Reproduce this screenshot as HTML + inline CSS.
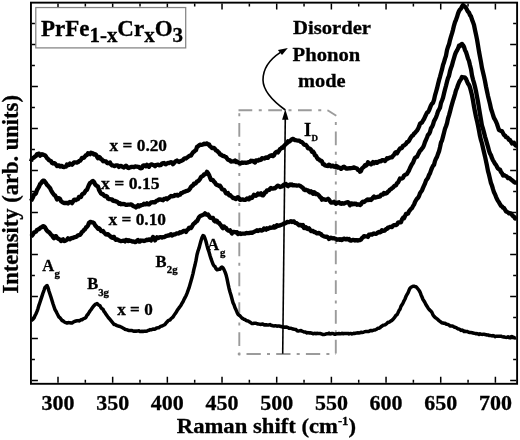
<!DOCTYPE html>
<html lang="en">
<head>
<meta charset="utf-8">
<title>Raman spectra of PrFe1-xCrxO3</title>
<style>
html,body{margin:0;padding:0;background:#fff;}
body{width:520px;height:440px;overflow:hidden;}
svg{display:block;}
text{white-space:pre;}
</style>
</head>
<body>
<svg width="520" height="440" viewBox="0 0 520 440" font-family='"Liberation Serif", "DejaVu Serif", serif' font-weight="bold" fill="#000">
<style>text{stroke:#000;stroke-width:0.3px;}</style>
<rect width="520" height="440" fill="#fff"/>
<path d="M58.00,382.85v-6.0M58.00,3.60v6.0M85.34,382.85v-3.0M85.34,3.60v3.0M112.67,382.85v-6.0M112.67,3.60v6.0M140.01,382.85v-3.0M140.01,3.60v3.0M167.35,382.85v-6.0M167.35,3.60v6.0M194.69,382.85v-3.0M194.69,3.60v3.0M222.02,382.85v-6.0M222.02,3.60v6.0M249.36,382.85v-3.0M249.36,3.60v3.0M276.70,382.85v-6.0M276.70,3.60v6.0M304.04,382.85v-3.0M304.04,3.60v3.0M331.38,382.85v-6.0M331.38,3.60v6.0M358.71,382.85v-3.0M358.71,3.60v3.0M386.05,382.85v-6.0M386.05,3.60v6.0M413.39,382.85v-3.0M413.39,3.60v3.0M440.72,382.85v-6.0M440.72,3.60v6.0M468.06,382.85v-3.0M468.06,3.60v3.0M495.40,382.85v-6.0M495.40,3.60v6.0M31.90,23.50h3.0M516.15,23.50h-3.0M31.90,44.50h6.0M516.15,44.50h-6.0M31.90,65.50h3.0M516.15,65.50h-3.0M31.90,86.50h6.0M516.15,86.50h-6.0M31.90,107.50h3.0M516.15,107.50h-3.0M31.90,128.50h6.0M516.15,128.50h-6.0M31.90,149.50h3.0M516.15,149.50h-3.0M31.90,170.50h6.0M516.15,170.50h-6.0M31.90,191.50h3.0M516.15,191.50h-3.0M31.90,212.50h6.0M516.15,212.50h-6.0M31.90,233.50h3.0M516.15,233.50h-3.0M31.90,254.50h6.0M516.15,254.50h-6.0M31.90,275.50h3.0M516.15,275.50h-3.0M31.90,296.50h6.0M516.15,296.50h-6.0M31.90,317.50h3.0M516.15,317.50h-3.0M31.90,338.50h6.0M516.15,338.50h-6.0M31.90,359.50h3.0M516.15,359.50h-3.0M31.90,380.50h6.0M516.15,380.50h-6.0" stroke="#000" stroke-width="1.5" fill="none"/>
<rect x="30.95" y="2.65" width="486.15" height="381.15" fill="none" stroke="#000" stroke-width="1.9"/>
<path d="M238.5,110.2 H328" fill="none" stroke="#9b9b9b" stroke-width="1.9" stroke-dasharray="13.75 6.5 3 6.5"/>
<path d="M327.6,110.2 L336.3,115.7" fill="none" stroke="#9b9b9b" stroke-width="1.9"/>
<path d="M335.8,116 V353.6" fill="none" stroke="#9b9b9b" stroke-width="1.9" stroke-dasharray="0 6 3 6.5 13.75 0.5"/>
<path d="M336,354 H237.8" fill="none" stroke="#9b9b9b" stroke-width="1.9" stroke-dasharray="3 6.2 14.3 6.2" stroke-dashoffset="-6.6"/>
<path d="M239.3,355.4 V110" fill="none" stroke="#9b9b9b" stroke-width="1.9" stroke-dasharray="3 6.4 13.8 6.7"/>
<path id="c0" d="M31.0,320.8 32.0,319.9 33.0,319.3 34.0,318.0 35.0,315.6 36.0,313.7 37.0,311.4 38.0,308.6 39.0,305.1 40.0,302.2 41.0,299.1 42.0,296.1 43.0,293.0 44.0,290.3 45.0,287.4 46.0,286.4 47.0,285.5 48.0,287.8 49.0,291.2 50.0,294.2 51.0,297.2 52.0,300.4 53.0,303.8 54.0,306.8 55.0,309.6 56.0,311.2 57.0,313.3 58.0,315.2 59.0,317.1 60.0,317.8 61.0,319.1 62.0,320.5 63.0,320.8 64.0,321.8 65.0,322.3 66.0,322.7 67.0,323.1 68.0,322.7 69.0,322.6 70.0,322.8 71.0,323.0 72.0,323.0 73.0,322.3 74.0,321.7 75.0,321.3 76.0,321.0 77.0,320.8 78.0,320.6 79.0,321.0 80.0,320.4 81.0,319.8 82.0,319.7 83.0,319.0 84.0,318.5 85.0,318.1 86.0,317.3 87.0,315.3 88.0,314.2 89.0,312.6 90.0,311.0 91.0,309.7 92.0,308.2 93.0,306.9 94.0,305.7 95.0,304.6 96.0,304.0 97.0,303.6 98.0,304.6 99.0,305.2 100.0,305.8 101.0,307.7 102.0,308.7 103.0,309.3 104.0,311.4 105.0,312.6 106.0,314.3 107.0,315.6 108.0,317.1 109.0,318.3 110.0,319.4 111.0,320.7 112.0,321.9 113.0,323.1 114.0,324.5 115.0,324.4 116.0,325.1 117.0,325.6 118.0,326.0 119.0,326.2 120.0,326.4 121.0,327.0 122.0,327.4 123.0,328.1 124.0,328.5 125.0,329.3 126.0,329.6 127.0,329.8 128.0,330.3 129.0,330.5 130.0,330.4 131.0,330.5 132.0,330.6 133.0,331.0 134.0,331.2 135.0,331.1 136.0,331.2 137.0,331.0 138.0,331.1 139.0,330.8 140.0,331.4 141.0,331.5 142.0,331.3 143.0,331.5 144.0,331.3 145.0,331.1 146.0,331.3 147.0,331.1 148.0,330.4 149.0,330.3 150.0,329.6 151.0,329.9 152.0,329.6 153.0,329.0 154.0,329.3 155.0,329.3 156.0,328.4 157.0,327.9 158.0,327.8 159.0,327.7 160.0,326.8 161.0,326.2 162.0,326.1 163.0,325.5 164.0,325.0 165.0,324.4 166.0,323.1 167.0,322.1 168.0,320.8 169.0,320.2 170.0,320.1 171.0,318.6 172.0,317.9 173.0,317.0 174.0,315.4 175.0,313.9 176.0,312.5 177.0,310.8 178.0,309.3 179.0,307.9 180.0,306.6 181.0,305.2 182.0,303.2 183.0,301.7 184.0,299.6 185.0,297.6 186.0,295.7 187.0,293.4 188.0,290.7 189.0,287.9 190.0,284.6 191.0,281.1 192.0,277.5 193.0,273.6 194.0,268.9 195.0,265.0 196.0,260.4 197.0,254.8 198.0,251.0 199.0,248.2 200.0,244.4 201.0,240.7 202.0,237.5 203.0,235.6 204.0,236.1 205.0,238.5 206.0,241.5 207.0,245.6 208.0,249.2 209.0,252.0 210.0,255.5 211.0,258.7 212.0,261.5 213.0,264.2 214.0,266.0 215.0,266.6 216.0,268.8 217.0,269.8 218.0,269.5 219.0,269.3 220.0,269.2 221.0,267.6 222.0,267.1 223.0,267.9 224.0,269.6 225.0,271.9 226.0,274.7 227.0,278.7 228.0,283.7 229.0,288.2 230.0,292.0 231.0,295.3 232.0,299.0 233.0,302.7 234.0,304.7 235.0,307.8 236.0,309.8 237.0,312.2 238.0,314.4 239.0,315.2 240.0,315.8 241.0,317.0 242.0,318.2 243.0,318.5 244.0,319.3 245.0,319.5 246.0,320.4 247.0,320.8 248.0,321.0 249.0,321.6 250.0,322.1 251.0,322.9 252.0,323.6 253.0,323.5 254.0,323.3 255.0,323.2 256.0,323.3 257.0,323.8 258.0,324.0 259.0,324.1 260.0,324.3 261.0,324.5 262.0,324.1 263.0,324.0 264.0,324.8 265.0,325.1 266.0,324.7 267.0,325.1 268.0,325.0 269.0,324.9 270.0,324.6 271.0,325.2 272.0,325.5 273.0,325.8 274.0,325.9 275.0,325.8 276.0,325.8 277.0,326.2 278.0,326.1 279.0,326.0 280.0,326.2 281.0,326.5 282.0,326.8 283.0,327.3 284.0,327.0 285.0,327.2 286.0,327.0 287.0,327.3 288.0,327.6 289.0,328.2 290.0,328.4 291.0,328.2 292.0,328.7 293.0,329.1 294.0,329.2 295.0,329.4 296.0,329.5 297.0,330.8 298.0,330.9 299.0,330.9 300.0,330.7 301.0,330.6 302.0,331.1 303.0,331.5 304.0,332.0 305.0,331.9 306.0,332.3 307.0,333.0 308.0,332.6 309.0,332.9 310.0,332.8 311.0,333.0 312.0,333.3 313.0,333.8 314.0,333.4 315.0,333.3 316.0,333.8 317.0,333.3 318.0,333.4 319.0,333.4 320.0,333.4 321.0,333.8 322.0,334.1 323.0,334.6 324.0,334.6 325.0,334.4 326.0,333.9 327.0,333.7 328.0,333.8 329.0,333.1 330.0,333.9 331.0,333.8 332.0,333.4 333.0,333.5 334.0,334.0 335.0,334.3 336.0,333.9 337.0,333.8 338.0,333.8 339.0,333.5 340.0,333.7 341.0,333.8 342.0,333.3 343.0,333.8 344.0,333.5 345.0,333.6 346.0,333.5 347.0,333.4 348.0,333.4 349.0,333.9 350.0,333.5 351.0,333.4 352.0,334.0 353.0,333.6 354.0,333.3 355.0,333.5 356.0,333.1 357.0,333.1 358.0,332.8 359.0,332.9 360.0,332.8 361.0,332.2 362.0,332.6 363.0,332.4 364.0,332.0 365.0,331.6 366.0,331.4 367.0,331.4 368.0,331.4 369.0,331.5 370.0,330.7 371.0,330.4 372.0,330.7 373.0,330.4 374.0,330.0 375.0,330.0 376.0,329.5 377.0,328.9 378.0,328.2 379.0,328.2 380.0,327.7 381.0,326.6 382.0,326.1 383.0,325.3 384.0,325.1 385.0,324.9 386.0,324.1 387.0,323.3 388.0,322.3 389.0,322.2 390.0,321.7 391.0,320.9 392.0,320.4 393.0,319.3 394.0,318.1 395.0,316.9 396.0,315.3 397.0,314.7 398.0,312.8 399.0,310.6 400.0,309.2 401.0,306.3 402.0,304.7 403.0,303.1 404.0,300.8 405.0,299.0 406.0,296.4 407.0,294.5 408.0,292.9 409.0,290.3 410.0,288.2 411.0,287.3 412.0,286.8 413.0,286.2 414.0,286.2 415.0,286.6 416.0,286.8 417.0,287.8 418.0,289.0 419.0,290.3 420.0,292.0 421.0,294.7 422.0,297.0 423.0,299.5 424.0,301.0 425.0,302.7 426.0,304.7 427.0,306.3 428.0,307.9 429.0,309.3 430.0,310.4 431.0,311.2 432.0,312.6 433.0,314.9 434.0,316.3 435.0,317.4 436.0,318.0 437.0,318.8 438.0,319.6 439.0,320.7 440.0,321.5 441.0,322.1 442.0,323.0 443.0,322.9 444.0,323.3 445.0,323.3 446.0,324.0 447.0,324.3 448.0,324.5 449.0,325.0 450.0,325.9 451.0,326.0 452.0,326.0 453.0,326.2 454.0,327.0 455.0,327.3 456.0,327.6 457.0,328.2 458.0,328.9 459.0,329.0 460.0,329.5 461.0,330.4 462.0,330.0 463.0,330.6 464.0,331.6 465.0,331.3 466.0,331.5 467.0,331.4 468.0,331.9 469.0,332.3 470.0,332.6 471.0,332.6 472.0,332.7 473.0,333.1 474.0,333.2 475.0,333.4 476.0,333.7 477.0,333.6 478.0,333.9 479.0,334.4 480.0,333.8 481.0,334.2 482.0,334.4 483.0,334.3 484.0,334.3 485.0,334.5 486.0,334.7 487.0,335.1 488.0,334.9 489.0,335.4 490.0,335.4 491.0,335.6 492.0,336.0 493.0,335.5 494.0,335.9 495.0,336.7 496.0,336.2 497.0,336.2 498.0,336.2 499.0,336.2 500.0,336.3 501.0,336.2 502.0,336.6 503.0,336.9 504.0,336.8 505.0,337.2 506.0,337.4 507.0,337.3 508.0,336.8 509.0,337.5 510.0,337.8 511.0,336.7 512.0,336.6 513.0,337.0 514.0,337.6 515.0,337.9 516.0,337.6" fill="none" stroke="#000" stroke-width="3.5" stroke-linejoin="round" stroke-linecap="butt"/>
<path id="c10" d="M31.0,236.5 32.0,235.6 33.0,234.4 34.0,232.3 35.0,232.1 36.0,231.6 37.0,229.9 38.0,229.5 39.0,229.0 40.0,228.2 41.0,227.3 42.0,227.1 43.0,226.2 44.0,226.4 45.0,227.3 46.0,229.2 47.0,230.7 48.0,231.6 49.0,232.2 50.0,233.3 51.0,234.6 52.0,235.4 53.0,237.1 54.0,238.2 55.0,236.4 56.0,236.1 57.0,237.8 58.0,238.6 59.0,239.2 60.0,239.6 61.0,241.0 62.0,239.8 63.0,239.3 64.0,241.0 65.0,240.9 66.0,240.4 67.0,239.6 68.0,238.3 69.0,238.9 70.0,239.3 71.0,238.3 72.0,237.9 73.0,238.1 74.0,237.4 75.0,237.1 76.0,236.9 77.0,236.3 78.0,235.3 79.0,235.1 80.0,234.9 81.0,233.7 82.0,231.8 83.0,231.3 84.0,229.9 85.0,229.3 86.0,227.4 87.0,226.8 88.0,225.4 89.0,222.9 90.0,222.0 91.0,222.0 92.0,222.4 93.0,222.5 94.0,223.1 95.0,225.1 96.0,226.3 97.0,227.4 98.0,228.7 99.0,228.1 100.0,229.2 101.0,231.1 102.0,231.2 103.0,231.0 104.0,232.5 105.0,233.4 106.0,234.4 107.0,234.5 108.0,234.1 109.0,235.2 110.0,236.0 111.0,237.1 112.0,237.7 113.0,236.9 114.0,237.0 115.0,238.9 116.0,239.9 117.0,239.4 118.0,239.7 119.0,240.4 120.0,240.8 121.0,241.2 122.0,241.0 123.0,240.7 124.0,240.6 125.0,241.4 126.0,239.9 127.0,240.1 128.0,241.0 129.0,240.2 130.0,240.9 131.0,240.9 132.0,241.5 133.0,241.4 134.0,241.6 135.0,242.2 136.0,241.9 137.0,240.8 138.0,240.0 139.0,241.7 140.0,241.6 141.0,240.5 142.0,240.7 143.0,240.7 144.0,241.1 145.0,240.7 146.0,240.3 147.0,239.7 148.0,240.0 149.0,239.3 150.0,239.6 151.0,240.5 152.0,238.8 153.0,237.0 154.0,238.4 155.0,240.4 156.0,238.7 157.0,237.2 158.0,238.1 159.0,237.7 160.0,237.2 161.0,237.2 162.0,237.7 163.0,237.2 164.0,237.1 165.0,236.8 166.0,236.0 167.0,235.9 168.0,235.4 169.0,235.5 170.0,234.8 171.0,234.2 172.0,235.5 173.0,235.1 174.0,234.3 175.0,234.4 176.0,233.7 177.0,233.3 178.0,233.5 179.0,233.4 180.0,232.2 181.0,232.7 182.0,232.2 183.0,231.2 184.0,230.8 185.0,230.9 186.0,231.9 187.0,230.3 188.0,229.6 189.0,227.9 190.0,227.7 191.0,228.1 192.0,226.6 193.0,224.6 194.0,223.6 195.0,222.8 196.0,221.6 197.0,221.2 198.0,219.4 199.0,217.2 200.0,216.2 201.0,215.7 202.0,215.3 203.0,214.8 204.0,214.5 205.0,213.3 206.0,214.4 207.0,214.8 208.0,214.5 209.0,216.0 210.0,217.6 211.0,217.9 212.0,218.0 213.0,217.9 214.0,220.6 215.0,221.4 216.0,220.4 217.0,220.9 218.0,222.6 219.0,222.8 220.0,224.3 221.0,225.4 222.0,227.1 223.0,228.2 224.0,226.4 225.0,227.5 226.0,227.9 227.0,229.6 228.0,230.4 229.0,230.8 230.0,230.3 231.0,232.0 232.0,233.4 233.0,231.9 234.0,232.0 235.0,232.1 236.0,232.5 237.0,232.2 238.0,234.0 239.0,233.5 240.0,233.2 241.0,234.0 242.0,233.7 243.0,233.6 244.0,233.6 245.0,233.7 246.0,233.1 247.0,233.0 248.0,233.2 249.0,233.0 250.0,232.9 251.0,232.6 252.0,232.9 253.0,232.3 254.0,231.8 255.0,231.3 256.0,231.0 257.0,230.3 258.0,231.0 259.0,230.3 260.0,229.8 261.0,230.4 262.0,230.6 263.0,229.9 264.0,228.4 265.0,229.2 266.0,229.7 267.0,228.3 268.0,228.9 269.0,228.4 270.0,227.4 271.0,227.8 272.0,227.7 273.0,227.6 274.0,226.3 275.0,227.5 276.0,226.9 277.0,225.2 278.0,225.9 279.0,225.7 280.0,225.4 281.0,224.9 282.0,224.5 283.0,224.3 284.0,223.4 285.0,223.5 286.0,222.9 287.0,221.9 288.0,222.0 289.0,222.2 290.0,221.7 291.0,221.1 292.0,222.0 293.0,221.4 294.0,221.5 295.0,222.8 296.0,222.8 297.0,223.6 298.0,224.3 299.0,225.3 300.0,224.9 301.0,224.9 302.0,226.0 303.0,225.0 304.0,228.0 305.0,227.9 306.0,227.2 307.0,228.7 308.0,229.1 309.0,228.3 310.0,229.7 311.0,231.1 312.0,230.9 313.0,231.0 314.0,232.0 315.0,231.9 316.0,232.7 317.0,233.4 318.0,233.2 319.0,232.9 320.0,233.7 321.0,234.1 322.0,235.4 323.0,235.9 324.0,236.4 325.0,236.6 326.0,236.8 327.0,236.6 328.0,237.5 329.0,238.9 330.0,238.3 331.0,237.7 332.0,238.1 333.0,238.3 334.0,238.2 335.0,238.7 336.0,238.8 337.0,239.8 338.0,239.5 339.0,239.2 340.0,239.8 341.0,239.2 342.0,240.0 343.0,239.3 344.0,238.6 345.0,239.0 346.0,239.4 347.0,238.8 348.0,239.4 349.0,239.0 350.0,240.5 351.0,240.7 352.0,240.0 353.0,239.8 354.0,240.1 355.0,240.5 356.0,240.2 357.0,240.1 358.0,240.6 359.0,240.2 360.0,240.1 361.0,239.6 362.0,238.0 363.0,237.4 364.0,236.1 365.0,236.4 366.0,236.4 367.0,236.3 368.0,236.9 369.0,234.6 370.0,234.6 371.0,234.4 372.0,234.7 373.0,233.8 374.0,233.4 375.0,233.8 376.0,233.9 377.0,233.4 378.0,232.3 379.0,231.8 380.0,232.4 381.0,231.9 382.0,230.2 383.0,230.7 384.0,230.8 385.0,230.4 386.0,229.2 387.0,229.0 388.0,227.6 389.0,227.5 390.0,226.9 391.0,226.8 392.0,227.1 393.0,225.7 394.0,225.2 395.0,225.0 396.0,225.2 397.0,224.7 398.0,222.6 399.0,222.3 400.0,222.2 401.0,222.3 402.0,219.4 403.0,217.8 404.0,218.3 405.0,216.1 406.0,214.0 407.0,213.9 408.0,213.5 409.0,211.3 410.0,210.1 411.0,208.9 412.0,208.1 413.0,206.1 414.0,204.6 415.0,202.1 416.0,200.2 417.0,198.7 418.0,197.8 419.0,196.1 420.0,193.2 421.0,191.8 422.0,190.4 423.0,187.9 424.0,185.6 425.0,183.5 426.0,180.6 427.0,179.2 428.0,177.8 429.0,175.0 430.0,173.4 431.0,170.4 432.0,167.9 433.0,165.8 434.0,164.9 435.0,161.0 436.0,158.6 437.0,156.9 438.0,153.9 439.0,151.4 440.0,147.3 441.0,142.5 442.0,140.5 443.0,136.6 444.0,132.8 445.0,128.8 446.0,126.2 447.0,123.2 448.0,118.5 449.0,115.3 450.0,111.7 451.0,107.7 452.0,104.2 453.0,100.7 454.0,97.5 455.0,94.1 456.0,90.3 457.0,88.0 458.0,85.0 459.0,82.5 460.0,80.5 461.0,79.2 462.0,77.0 463.0,77.2 464.0,77.3 465.0,77.6 466.0,78.8 467.0,81.4 468.0,83.6 469.0,84.9 470.0,87.4 471.0,91.2 472.0,95.3 473.0,100.7 474.0,106.6 475.0,111.9 476.0,116.8 477.0,120.9 478.0,125.5 479.0,130.6 480.0,136.1 481.0,140.2 482.0,143.5 483.0,147.9 484.0,152.3 485.0,156.4 486.0,161.1 487.0,165.8 488.0,171.1 489.0,174.7 490.0,178.9 491.0,183.2 492.0,185.6 493.0,189.2 494.0,192.3 495.0,194.2 496.0,196.8 497.0,199.1 498.0,200.8 499.0,202.4 500.0,204.2 501.0,205.9 502.0,206.4 503.0,207.7 504.0,208.1 505.0,209.7 506.0,211.3 507.0,211.9 508.0,212.4 509.0,213.3 510.0,213.2 511.0,213.6 512.0,214.9 513.0,216.1 514.0,216.7 515.0,218.5 516.0,218.4 517.0,218.9" fill="none" stroke="#000" stroke-width="4.3" stroke-linejoin="round" stroke-linecap="butt"/>
<path id="c15" d="M31.0,201.0 32.0,199.2 33.0,197.3 34.0,194.4 35.0,194.3 36.0,193.2 37.0,190.0 38.0,188.4 39.0,186.7 40.0,184.2 41.0,183.3 42.0,181.8 43.0,180.7 44.0,180.6 45.0,182.0 46.0,183.2 47.0,184.8 48.0,185.7 49.0,187.0 50.0,188.0 51.0,190.2 52.0,192.0 53.0,193.4 54.0,194.9 55.0,195.4 56.0,197.1 57.0,199.5 58.0,198.5 59.0,198.1 60.0,198.9 61.0,201.1 62.0,201.9 63.0,202.6 64.0,203.0 65.0,202.9 66.0,203.0 67.0,202.9 68.0,203.5 69.0,202.5 70.0,202.0 71.0,202.3 72.0,203.1 73.0,201.5 74.0,199.9 75.0,199.6 76.0,200.1 77.0,199.3 78.0,199.2 79.0,197.0 80.0,196.9 81.0,197.0 82.0,194.5 83.0,193.6 84.0,193.6 85.0,191.7 86.0,190.3 87.0,189.8 88.0,187.3 89.0,184.9 90.0,183.1 91.0,182.4 92.0,181.4 93.0,180.9 94.0,181.9 95.0,184.2 96.0,185.3 97.0,185.9 98.0,186.6 99.0,189.9 100.0,191.7 101.0,193.5 102.0,194.1 103.0,194.2 104.0,195.5 105.0,196.3 106.0,196.0 107.0,196.4 108.0,198.7 109.0,199.2 110.0,199.2 111.0,199.3 112.0,199.3 113.0,200.7 114.0,201.1 115.0,200.8 116.0,201.5 117.0,201.6 118.0,202.5 119.0,203.8 120.0,203.2 121.0,204.3 122.0,204.0 123.0,204.1 124.0,204.0 125.0,204.3 126.0,204.9 127.0,204.8 128.0,204.6 129.0,204.7 130.0,204.7 131.0,204.3 132.0,204.9 133.0,205.8 134.0,206.4 135.0,206.4 136.0,207.4 137.0,206.6 138.0,205.4 139.0,206.4 140.0,205.3 141.0,205.5 142.0,204.9 143.0,204.9 144.0,203.7 145.0,204.4 146.0,204.4 147.0,203.3 148.0,204.4 149.0,204.4 150.0,203.4 151.0,202.4 152.0,202.3 153.0,202.1 154.0,202.3 155.0,202.4 156.0,201.2 157.0,200.5 158.0,200.3 159.0,199.5 160.0,199.4 161.0,199.6 162.0,200.0 163.0,200.3 164.0,198.9 165.0,198.8 166.0,198.3 167.0,199.2 168.0,198.4 169.0,197.8 170.0,196.7 171.0,196.0 172.0,196.4 173.0,196.1 174.0,196.1 175.0,194.9 176.0,195.3 177.0,194.8 178.0,195.6 179.0,194.8 180.0,194.7 181.0,193.2 182.0,193.1 183.0,192.4 184.0,191.8 185.0,191.7 186.0,191.1 187.0,190.8 188.0,190.6 189.0,189.9 190.0,188.7 191.0,186.8 192.0,185.9 193.0,185.5 194.0,183.6 195.0,183.8 196.0,183.0 197.0,181.6 198.0,181.2 199.0,180.3 200.0,178.9 201.0,177.0 202.0,176.4 203.0,175.9 204.0,174.4 205.0,174.3 206.0,173.8 207.0,171.8 208.0,173.2 209.0,174.8 210.0,177.6 211.0,179.9 212.0,179.7 213.0,180.2 214.0,181.7 215.0,182.6 216.0,184.3 217.0,185.1 218.0,185.1 219.0,186.1 220.0,185.7 221.0,187.2 222.0,189.2 223.0,189.6 224.0,189.8 225.0,191.3 226.0,193.4 227.0,193.6 228.0,193.1 229.0,195.2 230.0,194.9 231.0,196.1 232.0,196.9 233.0,198.0 234.0,197.8 235.0,198.8 236.0,199.1 237.0,197.7 238.0,197.1 239.0,198.2 240.0,199.9 241.0,199.8 242.0,199.5 243.0,199.4 244.0,199.9 245.0,199.9 246.0,199.5 247.0,198.4 248.0,199.0 249.0,199.4 250.0,197.4 251.0,198.2 252.0,198.0 253.0,196.3 254.0,194.7 255.0,195.4 256.0,195.9 257.0,194.8 258.0,193.4 259.0,194.5 260.0,194.1 261.0,193.3 262.0,195.1 263.0,195.4 264.0,194.1 265.0,192.4 266.0,192.2 267.0,190.4 268.0,190.3 269.0,190.0 270.0,188.8 271.0,187.9 272.0,188.6 273.0,188.6 274.0,188.1 275.0,188.3 276.0,187.3 277.0,186.3 278.0,185.6 279.0,186.1 280.0,187.1 281.0,186.7 282.0,186.5 283.0,185.3 284.0,184.7 285.0,184.5 286.0,184.0 287.0,185.7 288.0,186.2 289.0,184.9 290.0,184.5 291.0,185.0 292.0,184.5 293.0,185.4 294.0,185.1 295.0,185.3 296.0,185.4 297.0,185.7 298.0,185.5 299.0,185.3 300.0,185.8 301.0,186.5 302.0,187.2 303.0,188.0 304.0,189.5 305.0,190.0 306.0,189.6 307.0,190.4 308.0,190.3 309.0,191.7 310.0,192.3 311.0,191.3 312.0,192.5 313.0,193.8 314.0,192.2 315.0,192.8 316.0,194.2 317.0,193.9 318.0,194.6 319.0,195.5 320.0,197.0 321.0,197.8 322.0,199.7 323.0,199.0 324.0,199.4 325.0,199.6 326.0,199.8 327.0,199.3 328.0,198.8 329.0,199.6 330.0,201.2 331.0,202.6 332.0,202.5 333.0,202.4 334.0,201.8 335.0,203.0 336.0,203.8 337.0,202.7 338.0,202.5 339.0,202.2 340.0,203.5 341.0,203.8 342.0,203.2 343.0,203.4 344.0,203.7 345.0,203.2 346.0,202.5 347.0,202.3 348.0,202.1 349.0,203.4 350.0,205.3 351.0,203.5 352.0,203.4 353.0,204.3 354.0,203.6 355.0,204.0 356.0,203.7 357.0,204.8 358.0,204.5 359.0,204.4 360.0,205.1 361.0,204.3 362.0,202.3 363.0,201.7 364.0,202.0 365.0,201.2 366.0,200.7 367.0,199.6 368.0,199.5 369.0,200.0 370.0,199.4 371.0,200.0 372.0,199.0 373.0,197.5 374.0,196.5 375.0,197.6 376.0,197.3 377.0,197.1 378.0,196.7 379.0,196.8 380.0,196.5 381.0,194.9 382.0,194.3 383.0,194.5 384.0,192.9 385.0,193.3 386.0,193.6 387.0,192.9 388.0,191.6 389.0,191.0 390.0,189.6 391.0,189.1 392.0,188.2 393.0,187.5 394.0,186.3 395.0,185.6 396.0,185.4 397.0,183.2 398.0,182.7 399.0,180.6 400.0,178.5 401.0,178.7 402.0,178.5 403.0,177.8 404.0,175.7 405.0,174.9 406.0,174.4 407.0,174.0 408.0,172.1 409.0,170.5 410.0,168.0 411.0,166.0 412.0,164.1 413.0,162.8 414.0,160.2 415.0,157.9 416.0,157.1 417.0,156.8 418.0,154.7 419.0,152.7 420.0,150.8 421.0,149.9 422.0,148.5 423.0,147.4 424.0,145.1 425.0,142.0 426.0,139.8 427.0,137.5 428.0,134.8 429.0,133.9 430.0,132.0 431.0,128.1 432.0,126.9 433.0,124.6 434.0,121.1 435.0,119.4 436.0,117.4 437.0,114.6 438.0,111.3 439.0,109.6 440.0,107.7 441.0,102.9 442.0,100.5 443.0,97.8 444.0,93.4 445.0,89.5 446.0,85.8 447.0,81.7 448.0,78.2 449.0,75.9 450.0,71.2 451.0,68.0 452.0,65.2 453.0,61.4 454.0,58.1 455.0,54.6 456.0,52.1 457.0,50.5 458.0,48.6 459.0,45.8 460.0,46.2 461.0,44.5 462.0,43.9 463.0,45.2 464.0,46.9 465.0,50.2 466.0,52.0 467.0,55.1 468.0,58.7 469.0,60.9 470.0,65.3 471.0,69.2 472.0,75.5 473.0,79.6 474.0,82.9 475.0,86.7 476.0,91.2 477.0,96.6 478.0,102.0 479.0,108.0 480.0,114.2 481.0,119.8 482.0,125.8 483.0,128.8 484.0,132.6 485.0,136.6 486.0,139.9 487.0,143.3 488.0,146.8 489.0,150.8 490.0,153.4 491.0,155.3 492.0,158.2 493.0,160.4 494.0,161.9 495.0,163.8 496.0,164.9 497.0,166.9 498.0,168.6 499.0,169.3 500.0,169.6 501.0,172.1 502.0,173.2 503.0,175.5 504.0,175.0 505.0,175.6 506.0,176.1 507.0,176.8 508.0,178.1 509.0,178.0 510.0,178.5 511.0,179.5 512.0,180.2 513.0,181.0 514.0,182.0 515.0,182.5 516.0,182.6 517.0,182.5" fill="none" stroke="#000" stroke-width="4.3" stroke-linejoin="round" stroke-linecap="butt"/>
<path id="c20" d="M31.0,161.4 32.0,158.6 33.0,158.0 34.0,157.5 35.0,156.5 36.0,156.0 37.0,154.1 38.0,153.9 39.0,153.6 40.0,155.7 41.0,155.2 42.0,154.2 43.0,154.6 44.0,155.0 45.0,155.3 46.0,156.5 47.0,158.2 48.0,158.9 49.0,160.2 50.0,160.6 51.0,161.1 52.0,162.9 53.0,163.5 54.0,163.1 55.0,163.5 56.0,164.6 57.0,166.1 58.0,165.6 59.0,165.3 60.0,166.5 61.0,166.0 62.0,166.0 63.0,167.0 64.0,167.2 65.0,166.7 66.0,166.7 67.0,164.4 68.0,165.3 69.0,165.0 70.0,163.5 71.0,164.1 72.0,164.7 73.0,163.7 74.0,162.5 75.0,162.5 76.0,162.3 77.0,162.7 78.0,162.2 79.0,161.1 80.0,160.8 81.0,159.6 82.0,157.9 83.0,157.9 84.0,157.6 85.0,156.4 86.0,155.2 87.0,155.1 88.0,153.2 89.0,153.7 90.0,154.2 91.0,152.7 92.0,153.1 93.0,153.4 94.0,154.6 95.0,154.1 96.0,154.6 97.0,156.7 98.0,158.2 99.0,156.9 100.0,157.5 101.0,159.2 102.0,159.6 103.0,161.2 104.0,160.8 105.0,161.3 106.0,161.4 107.0,162.9 108.0,163.3 109.0,163.0 110.0,162.5 111.0,164.5 112.0,165.4 113.0,165.4 114.0,166.0 115.0,166.0 116.0,165.4 117.0,165.3 118.0,165.5 119.0,167.0 120.0,166.1 121.0,165.9 122.0,166.5 123.0,167.0 124.0,167.5 125.0,166.6 126.0,165.7 127.0,166.6 128.0,167.9 129.0,168.0 130.0,167.4 131.0,166.9 132.0,167.0 133.0,166.8 134.0,167.2 135.0,166.5 136.0,166.5 137.0,166.7 138.0,166.9 139.0,166.9 140.0,168.2 141.0,168.3 142.0,167.9 143.0,165.6 144.0,165.4 145.0,165.7 146.0,166.3 147.0,164.8 148.0,165.9 149.0,166.8 150.0,165.2 151.0,164.5 152.0,164.5 153.0,164.9 154.0,165.3 155.0,166.2 156.0,165.1 157.0,164.8 158.0,164.6 159.0,165.3 160.0,165.1 161.0,165.0 162.0,163.6 163.0,163.2 164.0,163.0 165.0,164.2 166.0,164.3 167.0,163.3 168.0,162.8 169.0,163.2 170.0,162.7 171.0,162.1 172.0,162.7 173.0,164.2 174.0,163.0 175.0,161.8 176.0,161.1 177.0,160.5 178.0,161.4 179.0,162.0 180.0,161.3 181.0,160.9 182.0,160.5 183.0,160.1 184.0,158.7 185.0,158.3 186.0,158.5 187.0,157.6 188.0,156.9 189.0,156.1 190.0,155.5 191.0,155.5 192.0,153.9 193.0,152.3 194.0,151.7 195.0,150.7 196.0,150.1 197.0,146.9 198.0,146.3 199.0,145.5 200.0,144.7 201.0,144.9 202.0,144.8 203.0,144.5 204.0,143.7 205.0,144.2 206.0,143.7 207.0,143.4 208.0,144.5 209.0,144.4 210.0,146.2 211.0,146.9 212.0,148.0 213.0,147.9 214.0,147.9 215.0,149.0 216.0,150.4 217.0,150.7 218.0,151.8 219.0,152.7 220.0,154.5 221.0,154.5 222.0,155.6 223.0,156.0 224.0,156.0 225.0,156.7 226.0,157.1 227.0,158.4 228.0,159.8 229.0,160.1 230.0,160.4 231.0,161.6 232.0,161.4 233.0,161.3 234.0,161.3 235.0,160.6 236.0,162.0 237.0,161.5 238.0,162.4 239.0,162.9 240.0,163.6 241.0,163.3 242.0,162.5 243.0,162.9 244.0,162.7 245.0,162.6 246.0,162.8 247.0,162.6 248.0,162.4 249.0,161.8 250.0,161.9 251.0,160.7 252.0,161.1 253.0,161.0 254.0,161.9 255.0,162.6 256.0,160.4 257.0,160.4 258.0,160.7 259.0,159.7 260.0,160.1 261.0,159.7 262.0,158.2 263.0,158.3 264.0,158.5 265.0,158.4 266.0,157.3 267.0,157.6 268.0,157.9 269.0,156.4 270.0,155.7 271.0,155.8 272.0,155.2 273.0,156.0 274.0,155.2 275.0,153.2 276.0,152.1 277.0,151.6 278.0,152.4 279.0,150.8 280.0,149.2 281.0,148.6 282.0,147.5 283.0,147.8 284.0,146.0 285.0,144.9 286.0,144.0 287.0,143.1 288.0,141.3 289.0,141.8 290.0,141.1 291.0,140.1 292.0,139.2 293.0,138.8 294.0,139.6 295.0,140.2 296.0,140.2 297.0,140.5 298.0,140.7 299.0,140.6 300.0,141.3 301.0,142.0 302.0,142.2 303.0,143.2 304.0,144.5 305.0,144.9 306.0,145.0 307.0,146.3 308.0,148.3 309.0,148.4 310.0,148.7 311.0,149.8 312.0,151.7 313.0,151.4 314.0,152.9 315.0,155.4 316.0,155.7 317.0,157.8 318.0,159.2 319.0,159.4 320.0,160.5 321.0,160.6 322.0,161.6 323.0,164.2 324.0,164.1 325.0,165.4 326.0,165.6 327.0,165.9 328.0,166.0 329.0,164.6 330.0,165.1 331.0,166.4 332.0,166.0 333.0,165.6 334.0,166.7 335.0,166.8 336.0,165.9 337.0,166.3 338.0,167.7 339.0,167.5 340.0,168.0 341.0,168.9 342.0,168.2 343.0,167.1 344.0,166.7 345.0,167.5 346.0,168.5 347.0,168.5 348.0,168.6 349.0,168.2 350.0,168.4 351.0,168.2 352.0,168.1 353.0,167.7 354.0,167.3 355.0,168.0 356.0,168.2 357.0,168.5 358.0,170.0 359.0,170.3 360.0,171.8 361.0,171.0 362.0,168.4 363.0,167.6 364.0,166.8 365.0,165.3 366.0,165.6 367.0,164.7 368.0,162.3 369.0,163.6 370.0,163.7 371.0,164.3 372.0,163.4 373.0,162.1 374.0,163.3 375.0,162.3 376.0,161.9 377.0,162.8 378.0,162.2 379.0,161.3 380.0,161.1 381.0,161.3 382.0,160.2 383.0,160.2 384.0,160.4 385.0,161.1 386.0,159.7 387.0,158.2 388.0,158.6 389.0,158.0 390.0,157.6 391.0,157.3 392.0,157.3 393.0,155.8 394.0,154.9 395.0,152.8 396.0,152.2 397.0,153.3 398.0,151.7 399.0,149.9 400.0,148.5 401.0,148.4 402.0,147.8 403.0,145.8 404.0,145.4 405.0,144.7 406.0,143.8 407.0,142.1 408.0,141.9 409.0,140.8 410.0,138.8 411.0,137.2 412.0,135.9 413.0,135.4 414.0,133.7 415.0,132.8 416.0,131.6 417.0,130.5 418.0,128.9 419.0,126.7 420.0,123.8 421.0,123.0 422.0,122.5 423.0,120.6 424.0,119.0 425.0,116.8 426.0,114.8 427.0,112.7 428.0,112.1 429.0,110.4 430.0,107.9 431.0,105.3 432.0,103.7 433.0,102.8 434.0,100.0 435.0,95.4 436.0,92.0 437.0,88.4 438.0,84.2 439.0,80.2 440.0,76.8 441.0,73.0 442.0,69.4 443.0,65.0 444.0,62.3 445.0,58.6 446.0,55.7 447.0,50.2 448.0,46.9 449.0,44.4 450.0,40.1 451.0,36.6 452.0,33.4 453.0,29.8 454.0,25.6 455.0,22.2 456.0,19.8 457.0,17.1 458.0,13.6 459.0,11.1 460.0,9.5 461.0,8.6 462.0,6.5 463.0,5.1 464.0,6.1 465.0,6.7 466.0,7.9 467.0,9.9 468.0,11.7 469.0,12.6 470.0,15.1 471.0,16.4 472.0,19.7 473.0,22.1 474.0,25.0 475.0,30.0 476.0,34.5 477.0,39.4 478.0,45.3 479.0,51.5 480.0,56.9 481.0,62.2 482.0,68.1 483.0,72.3 484.0,76.5 485.0,81.1 486.0,86.5 487.0,91.3 488.0,95.9 489.0,99.9 490.0,104.0 491.0,108.7 492.0,111.7 493.0,115.0 494.0,118.0 495.0,119.6 496.0,121.7 497.0,124.0 498.0,127.1 499.0,130.0 500.0,130.4 501.0,131.1 502.0,131.1 503.0,133.1 504.0,135.0 505.0,135.4 506.0,137.2 507.0,137.3 508.0,138.3 509.0,139.9 510.0,140.0 511.0,141.7 512.0,143.4 513.0,142.8 514.0,142.7 515.0,144.7 516.0,145.7 517.0,145.4" fill="none" stroke="#000" stroke-width="4.3" stroke-linejoin="round" stroke-linecap="butt"/>
<path d="M282.7,353.8 L285.3,117" stroke="#000" stroke-width="1.6" fill="none"/>
<path d="M285.3,109.3 L288.5,119.8 L282.1,119.8 Z" fill="#000"/>
<path d="M285.3,110 C277,104 263.2,93 263,80 C262.9,68 271,58.5 280.4,52.3" stroke="#000" stroke-width="1.6" fill="none"/>
<path d="M287.8,47.9 L277.9,49.9 L282.0,54.9 Z" fill="#000"/>
<rect x="35.8" y="7.55" width="149.9" height="40.35" fill="#fff" stroke="#848484" stroke-width="1.25"/>
<text x="41.5" y="409.7" font-size="21.8" text-anchor="start" textLength="33" lengthAdjust="spacingAndGlyphs">300</text>
<text x="96.2" y="409.7" font-size="21.8" text-anchor="start" textLength="33" lengthAdjust="spacingAndGlyphs">350</text>
<text x="150.8" y="409.7" font-size="21.8" text-anchor="start" textLength="33" lengthAdjust="spacingAndGlyphs">400</text>
<text x="205.5" y="409.7" font-size="21.8" text-anchor="start" textLength="33" lengthAdjust="spacingAndGlyphs">450</text>
<text x="260.2" y="409.7" font-size="21.8" text-anchor="start" textLength="33" lengthAdjust="spacingAndGlyphs">500</text>
<text x="314.9" y="409.7" font-size="21.8" text-anchor="start" textLength="33" lengthAdjust="spacingAndGlyphs">550</text>
<text x="369.5" y="409.7" font-size="21.8" text-anchor="start" textLength="33" lengthAdjust="spacingAndGlyphs">600</text>
<text x="424.2" y="409.7" font-size="21.8" text-anchor="start" textLength="33" lengthAdjust="spacingAndGlyphs">650</text>
<text x="478.9" y="409.7" font-size="21.8" text-anchor="start" textLength="33" lengthAdjust="spacingAndGlyphs">700</text>
<text x="176.8" y="433" font-size="21.2" textLength="179.2" lengthAdjust="spacingAndGlyphs">Raman shift (cm<tspan font-size="11.8" dy="-8.4">-1</tspan><tspan dy="8.4">)</tspan></text>
<text transform="translate(18.0,293.6) rotate(-90)" font-size="22.4" textLength="198.5" lengthAdjust="spacingAndGlyphs">Intensity (arb. units)</text>
<text x="40.9" y="35.5" font-size="22.4" textLength="142.2" lengthAdjust="spacingAndGlyphs">PrFe<tspan font-size="20.4" dy="6.2">1-x</tspan><tspan dy="-6.2">Cr</tspan><tspan font-size="20.4" dy="6.2">x</tspan><tspan dy="-6.2">O</tspan><tspan font-size="20.4" dy="6.2">3</tspan></text>
<text x="293.0" y="34.2" font-size="19.3" text-anchor="start" textLength="78" lengthAdjust="spacingAndGlyphs">Disorder</text>
<text x="292.6" y="61.1" font-size="19.3" text-anchor="start" textLength="67.6" lengthAdjust="spacingAndGlyphs">Phonon</text>
<text x="298.0" y="87.3" font-size="19.3" text-anchor="start" textLength="47.6" lengthAdjust="spacingAndGlyphs">mode</text>
<text x="42.2" y="270.5" font-size="16.5">A</text>
<text x="54.4" y="277.1" font-size="10.8">g</text>
<text x="87.2" y="289.2" font-size="16.5">B</text>
<text x="98.2" y="295.8" font-size="10.8">3g</text>
<text x="155.6" y="266.8" font-size="16.5">B</text>
<text x="166.8" y="273.3" font-size="10.8">2g</text>
<text x="207.3" y="249.5" font-size="16.5">A</text>
<text x="220.0" y="256.1" font-size="10.8">g</text>
<text x="304.0" y="135.6" font-size="18.4">I</text>
<text x="311.6" y="141.3" font-size="8.7" textLength="6.5" lengthAdjust="spacingAndGlyphs">D</text>
<text x="117.3" y="314.8" font-size="17.0" textLength="35.4" lengthAdjust="spacingAndGlyphs">x = 0</text>
<text x="108.4" y="224.7" font-size="17.2" textLength="57.6" lengthAdjust="spacingAndGlyphs">x = 0.10</text>
<text x="101.0" y="189.3" font-size="17.2" textLength="58.6" lengthAdjust="spacingAndGlyphs">x = 0.15</text>
<text x="109.6" y="150.6" font-size="17.2" textLength="57.4" lengthAdjust="spacingAndGlyphs">x = 0.20</text>
</svg>
</body>
</html>
